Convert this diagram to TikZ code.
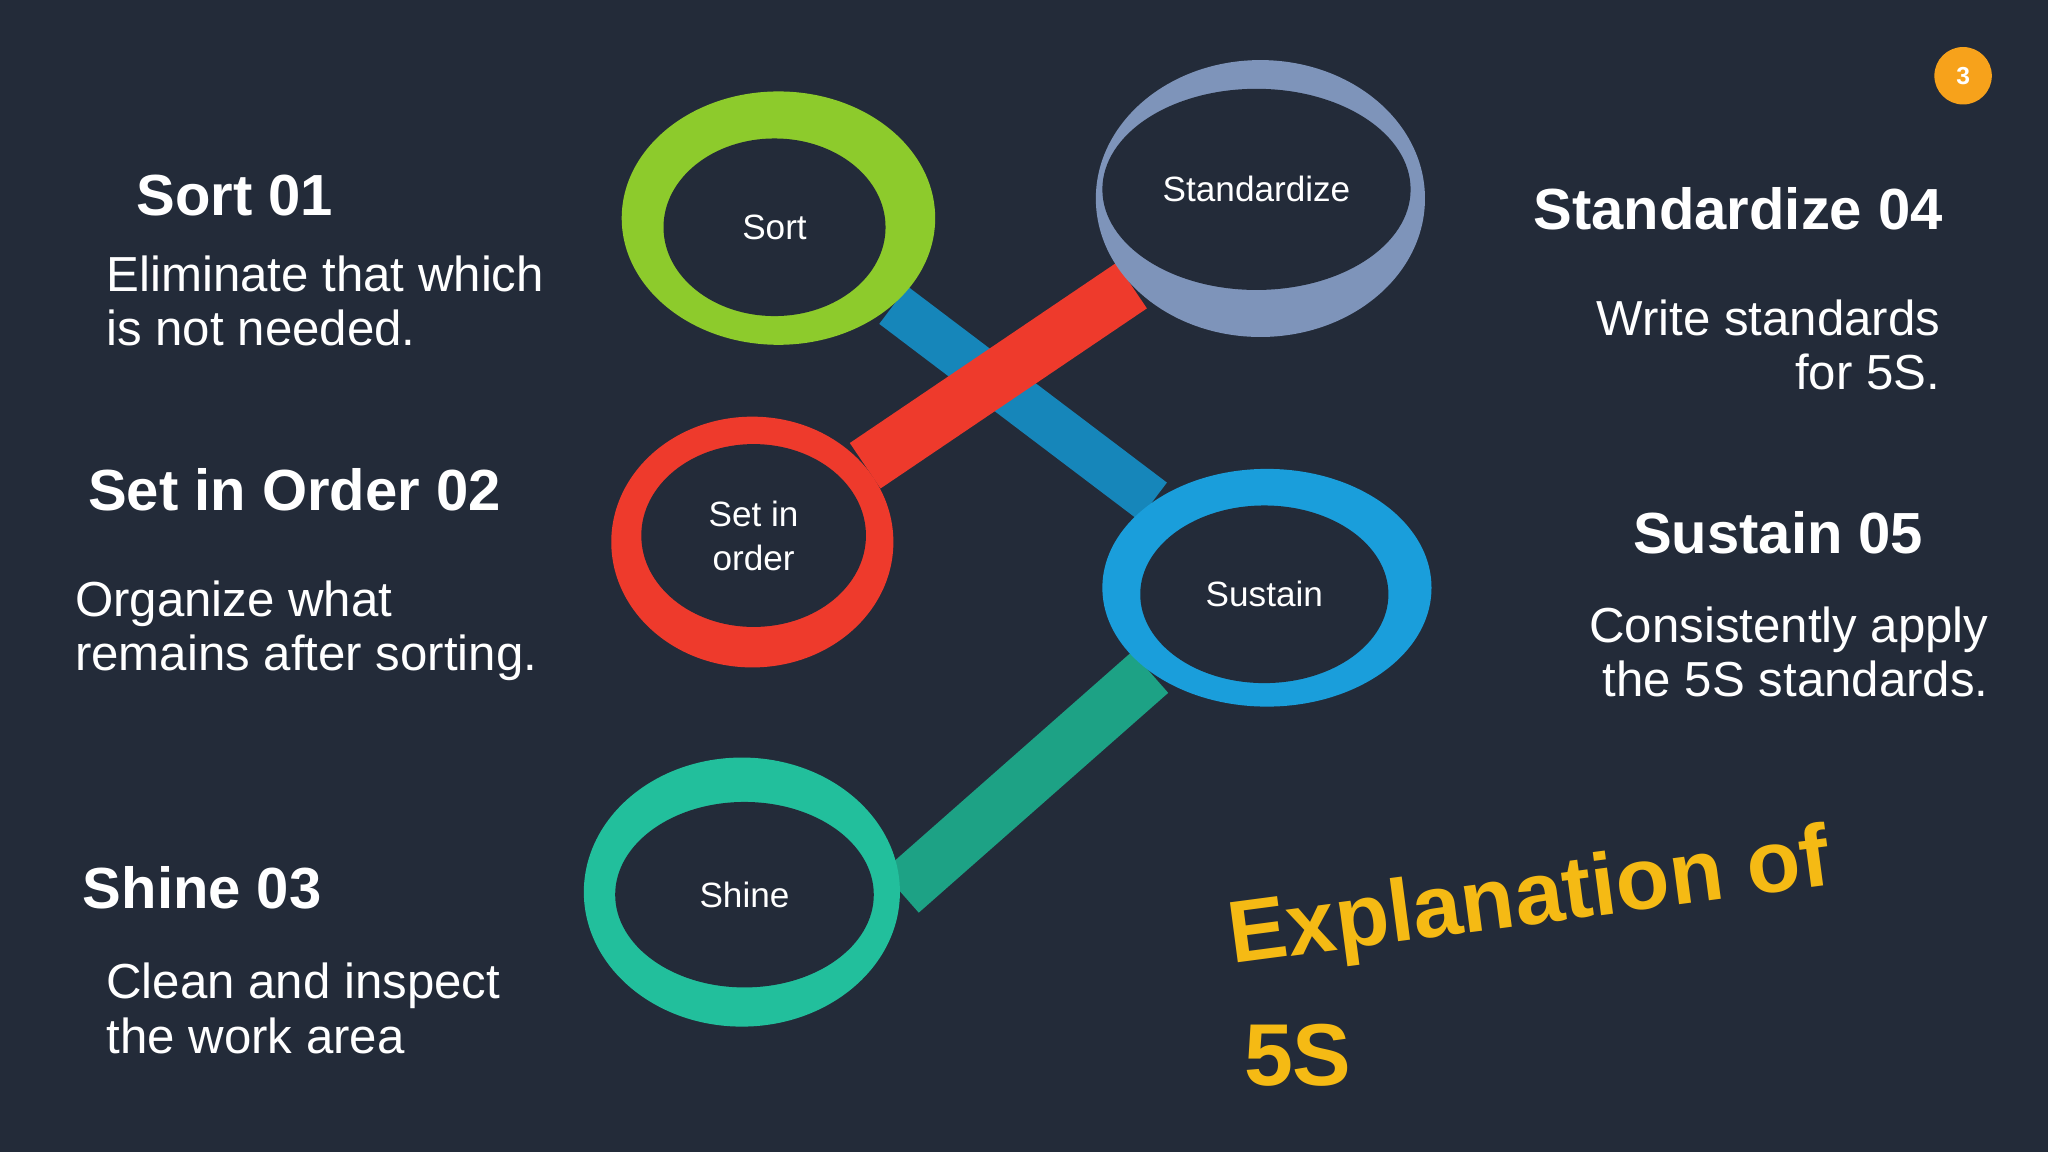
\documentclass[tikz,border=0pt]{standalone}
\usepackage{fontspec}
\setmainfont{Liberation Sans}
\usetikzlibrary{shapes.geometric,positioning}
\definecolor{slate}{HTML}{232B39}
\definecolor{sortgreen}{HTML}{8DCB2C}
\definecolor{stdgrey}{HTML}{7E94BA}
\definecolor{setred}{HTML}{EE3A2C}
\definecolor{susblue}{HTML}{1A9EDB}
\definecolor{shineteal}{HTML}{22BF9C}
\definecolor{badge}{HTML}{F7A21B}
\definecolor{titleyellow}{HTML}{F5BA14}
\pgfdeclarelayer{back}
\pgfdeclarelayer{bars}
\pgfsetlayers{back,bars,main}
\tikzset{
  ring/.style n args={3}{ellipse, fill=#1, minimum width=#2*0.01306cm, minimum height=#3*0.01306cm, inner sep=0pt},
  hole/.style n args={2}{ellipse, fill=slate, minimum width=#1*0.01306cm, minimum height=#2*0.01306cm, inner sep=0pt,
    text=white, font=\fontsize{10}{12.5}\selectfont, align=center},
  bar/.style={line width=#1*0.01306cm},
  head/.style={text=white, font=\fontsize{16.5}{20}\selectfont\bfseries, anchor=west},
  body/.style={text=white, font=\fontsize{14}{15.5}\selectfont, align=left, anchor=north west},
  bodyr/.style={text=white, font=\fontsize{14}{15.5}\selectfont, align=right, anchor=north east}
}
\begin{document}
\begin{tikzpicture}[x=0.01306cm, y=-0.01306cm]
  % Background
  \begin{pgfonlayer}{back}
    \fill[slate] (0,0) rectangle (1568,882);
  \end{pgfonlayer}
  \useasboundingbox (0,0) rectangle (1568,882);

  % Rings
  \node[ring={sortgreen}{240}{194}]  (sortR) at (596,167) {};
  \node[hole={170}{136}]             (sort)  at (593,174) {Sort};
  \node[ring={stdgrey}{252}{212}]    (stdR)  at (965,152) {};
  \node[hole={236}{154}]             (std)   at (962,145) {Standardize};
  \node[ring={setred}{216}{192}]     (setR)  at (576,415) {};
  \node[hole={172}{140}]             (set)   at (577,410) {Set in\\order};
  \node[ring={susblue}{252}{182}]    (susR)  at (970,450) {};
  \node[hole={190}{136}]             (sus)   at (968,455) {Sustain};
  \node[ring={shineteal}{242}{206}]  (shineR) at (568,683) {};
  \node[hole={198}{142}]             (shine) at (570,685) {Shine};

  % Bars
  \begin{pgfonlayer}{bars}
    \draw[bar=36, susblue!85!black] (sortR) -- (susR);
    \draw[bar=42, setred] (setR) -- (stdR);
    \draw[bar=42, shineteal!85!black] (shineR.east) -- (susR.south west);
  \end{pgfonlayer}

  % Page badge
  \node[circle, fill=badge, minimum size=44*0.01306cm, inner sep=0pt, text=white,
        font=\fontsize{7}{8}\selectfont\bfseries] (page) at (1503,58) {3};

  % Left texts
  \node[head] (sortH) at (95,150) {Sort 01};
  \node[body] (sortB) at (72,186) {Eliminate that which\\is not needed.};
  \node[head] (setH) at (58,375) {Set in Order 02};
  \node[body] (setB) at (48,435) {Organize what\\remains after sorting.};
  \node[head] (shineH) at (54,680) {Shine 03};
  \node[body] (shineB) at (72,728) {Clean and inspect\\the work area};

  % Right texts
  \node[head, anchor=east] (stdH) at (1497,160) {Standardize 04};
  \node[bodyr] (stdB) at (1495,220) {Write standards\\for 5S.};
  \node[head, anchor=east] (susH) at (1482,408) {Sustain 05};
  \node[bodyr] (susB) at (1532,455) {Consistently apply\\the 5S standards.};

  % Title
  \node[text=titleyellow, font=\fontsize{25}{26}\selectfont\bfseries, rotate=7.5, anchor=west]
    (title) at (932,722) {Explanation of};
  \node[text=titleyellow, font=\fontsize{25}{26}\selectfont\bfseries, anchor=west]
    (title2) at (943,808) {5S};
\end{tikzpicture}
\end{document}
